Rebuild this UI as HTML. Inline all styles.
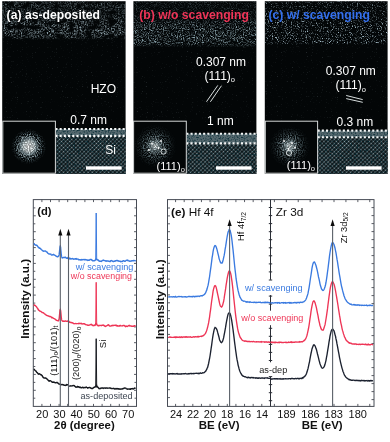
<!DOCTYPE html>
<html><head><meta charset="utf-8"><style>
html,body{margin:0;padding:0;background:#fff;width:390px;height:442px;overflow:hidden}
svg{display:block}
</style></head><body>
<svg width="390" height="442" viewBox="0 0 390 442">
<defs>
<filter id="nz" x="0" y="0" width="100%" height="100%" filterUnits="objectBoundingBox">
 <feTurbulence type="fractalNoise" baseFrequency="0.7" numOctaves="2" seed="4"/>
 <feColorMatrix type="matrix" values="0 0 0 0 0.5  0 0 0 0 0.66  0 0 0 0 0.74  2.6 0 0 0 -1.05"/>
 <feGaussianBlur stdDeviation="0.45"/>
</filter>
<filter id="nzb" x="0" y="0" width="100%" height="100%" filterUnits="objectBoundingBox">
 <feTurbulence type="fractalNoise" baseFrequency="0.85" numOctaves="2" seed="8"/>
 <feColorMatrix type="matrix" values="0 0 0 0 0.46  0 0 0 0 0.66  0 0 0 0 0.74  3.0 0 0 0 -1.3"/>
 <feGaussianBlur stdDeviation="0.35"/>
</filter>
<filter id="nzc" x="0" y="0" width="100%" height="100%" filterUnits="objectBoundingBox">
 <feTurbulence type="fractalNoise" baseFrequency="0.8" numOctaves="2" seed="19"/>
 <feColorMatrix type="matrix" values="0 0 0 0 0.52  0 0 0 0 0.7  0 0 0 0 0.8  4.0 0 0 0 -2.1"/>
 <feGaussianBlur stdDeviation="0.35"/>
</filter>
<filter id="nzd" x="0" y="0" width="100%" height="100%" filterUnits="objectBoundingBox">
 <feTurbulence type="fractalNoise" baseFrequency="0.8" numOctaves="1" seed="21"/>
 <feColorMatrix type="matrix" values="0 0 0 0 0.4  0 0 0 0 0.5  0 0 0 0 0.55  2.0 0 0 0 -1.3"/>
</filter>
<filter id="nzl" x="0" y="0" width="100%" height="100%" filterUnits="objectBoundingBox">
 <feTurbulence type="fractalNoise" baseFrequency="0.7" numOctaves="2" seed="31"/>
 <feColorMatrix type="matrix" values="0 0 0 0 0  0 0 0 0 0.02  0 0 0 0 0.03  -2.5 0 0 0 1.35"/>
</filter>
<filter id="nzm" x="0" y="0" width="100%" height="100%" filterUnits="objectBoundingBox">
 <feTurbulence type="fractalNoise" baseFrequency="0.85" numOctaves="1" seed="13"/>
 <feColorMatrix type="matrix" values="0 0 0 0 1  0 0 0 0 1  0 0 0 0 1  4 0 0 0 -1.7"/>
</filter>
<pattern id="lat" width="2.9" height="2.9" patternUnits="userSpaceOnUse" patternTransform="rotate(45)">
 <rect width="2.9" height="2.9" fill="#060d10"/>
 <circle cx="1.45" cy="1.45" r="0.85" fill="#8ea2a8"/>
</pattern>
<radialGradient id="blob">
 <stop offset="0" stop-color="#ffffff"/>
 <stop offset="0.45" stop-color="#d8e4e6"/>
 <stop offset="0.7" stop-color="#6a8088"/>
 <stop offset="1" stop-color="#20292c" stop-opacity="0"/>
</radialGradient>
<radialGradient id="blob2">
 <stop offset="0" stop-color="#f4fafa"/>
 <stop offset="0.25" stop-color="#b4c6ca"/>
 <stop offset="0.55" stop-color="#5a6e74" stop-opacity="0.8"/>
 <stop offset="1" stop-color="#1a2326" stop-opacity="0"/>
</radialGradient>
<filter id="lm0" x="0" y="0" width="100%" height="100%" filterUnits="objectBoundingBox">
 <feTurbulence type="fractalNoise" baseFrequency="0.13 0.2" numOctaves="2" seed="17"/>
 <feColorMatrix type="matrix" values="0 0 0 0 0  0 0 0 0 0  0 0 0 0 0  -4 0 0 0 2.2"/>
</filter>
<filter id="lm1" x="0" y="0" width="100%" height="100%" filterUnits="objectBoundingBox">
 <feTurbulence type="fractalNoise" baseFrequency="0.18 0.25" numOctaves="2" seed="27"/>
 <feColorMatrix type="matrix" values="0 0 0 0 0  0 0 0 0 0  0 0 0 0 0  -3 0 0 0 1.6"/>
</filter>
<filter id="lm2" x="0" y="0" width="100%" height="100%" filterUnits="objectBoundingBox">
 <feTurbulence type="fractalNoise" baseFrequency="0.18 0.25" numOctaves="2" seed="37"/>
 <feColorMatrix type="matrix" values="0 0 0 0 0  0 0 0 0 0  0 0 0 0 0  -3 0 0 0 1.6"/>
</filter>
<mask id="bm" maskUnits="userSpaceOnUse"><rect x="0" y="115" width="390" height="60" filter="url(#nzm)"/></mask>
<linearGradient id="bm0" x1="0" y1="0" x2="0" y2="1"><stop offset="0" stop-color="#fff" stop-opacity="0.5"/><stop offset="0.4" stop-color="#fff" stop-opacity="0.45"/><stop offset="0.55" stop-color="#fff" stop-opacity="0.6"/><stop offset="0.8" stop-color="#fff" stop-opacity="0.8"/><stop offset="0.92" stop-color="#fff" stop-opacity="0.6"/><stop offset="1" stop-color="#fff" stop-opacity="0.0"/></linearGradient>
<mask id="m0" maskUnits="userSpaceOnUse"><rect x="2.2" y="1.2" width="123.39999999999999" height="38.8" fill="url(#bm0)"/><rect x="2.2" y="1.2" width="123.39999999999999" height="38.8" filter="url(#lm0)"/></mask><linearGradient id="bm1" x1="0" y1="0" x2="0" y2="1"><stop offset="0" stop-color="#fff" stop-opacity="0.25"/><stop offset="0.38" stop-color="#fff" stop-opacity="0.28"/><stop offset="0.52" stop-color="#fff" stop-opacity="0.7"/><stop offset="0.85" stop-color="#fff" stop-opacity="0.8"/><stop offset="0.93" stop-color="#fff" stop-opacity="0.55"/><stop offset="1" stop-color="#fff" stop-opacity="0.0"/></linearGradient>
<mask id="m1" maskUnits="userSpaceOnUse"><rect x="133.4" y="1.2" width="122.99999999999997" height="46.3" fill="url(#bm1)"/><rect x="133.4" y="1.2" width="122.99999999999997" height="46.3" filter="url(#lm1)"/></mask><linearGradient id="bm2" x1="0" y1="0" x2="0" y2="1"><stop offset="0" stop-color="#fff" stop-opacity="0.55"/><stop offset="0.38" stop-color="#fff" stop-opacity="0.55"/><stop offset="0.55" stop-color="#fff" stop-opacity="0.8"/><stop offset="0.85" stop-color="#fff" stop-opacity="0.85"/><stop offset="0.93" stop-color="#fff" stop-opacity="1.0"/><stop offset="1" stop-color="#fff" stop-opacity="0.0"/></linearGradient>
<mask id="m2" maskUnits="userSpaceOnUse"><rect x="264.8" y="1.2" width="122.80000000000001" height="44.0" fill="url(#bm2)"/><rect x="264.8" y="1.2" width="122.80000000000001" height="44.0" filter="url(#lm2)"/></mask></defs>
<rect x="2.2" y="1.2" width="123.4" height="172.6" fill="#030607"/>
<rect x="2.2" y="1.2" width="123.4" height="38.8" filter="url(#nz)" mask="url(#m0)"/>
<rect x="2.2" y="40" width="123.4" height="81.2" filter="url(#nzd)" opacity="0.5"/>
<rect x="55.4" y="129.0" width="70.2" height="6.9" fill="#55686e"/>
<rect x="55.4" y="135.9" width="70.2" height="37.9" fill="url(#lat)"/>
<rect x="55.4" y="129.0" width="70.2" height="44.8" filter="url(#nzl)"/>
<line x1="55.4" y1="129.0" x2="125.6" y2="129.0" stroke="#f4f6f6" stroke-width="2.1" stroke-dasharray="2.1 2.1"/>
<line x1="55.4" y1="135.9" x2="125.6" y2="135.9" stroke="#f4f6f6" stroke-width="2.1" stroke-dasharray="2.1 2.1"/>
<rect x="2.8" y="121.2" width="52.6" height="52.0" fill="#030607" stroke="#d4d8d8" stroke-width="1"/>
<rect x="86" y="166.3" width="35.6" height="3.4" fill="#ffffff"/>
<text x="6.6" y="18.8" font-family='"Liberation Sans", Arial, sans-serif' font-weight="bold" font-size="12.2" fill="#ffffff">(a) as-deposited</text>
<rect x="133.4" y="1.2" width="123.0" height="172.6" fill="#030607"/>
<rect x="133.4" y="1.2" width="123.0" height="46.3" filter="url(#nzb)" mask="url(#m1)"/>
<rect x="133.4" y="47.5" width="123.0" height="73.7" filter="url(#nzd)" opacity="0.5"/>
<rect x="186.3" y="133.7" width="70.1" height="9.7" fill="#55686e"/>
<rect x="186.3" y="143.4" width="70.1" height="30.4" fill="url(#lat)"/>
<rect x="186.3" y="133.7" width="70.1" height="40.1" filter="url(#nzl)"/>
<line x1="186.3" y1="133.7" x2="256.4" y2="133.7" stroke="#f4f6f6" stroke-width="2.1" stroke-dasharray="2.1 2.1"/>
<line x1="186.3" y1="143.4" x2="256.4" y2="143.4" stroke="#f4f6f6" stroke-width="2.1" stroke-dasharray="2.1 2.1"/>
<rect x="133.6" y="121.2" width="52.7" height="52.0" fill="#030607" stroke="#d4d8d8" stroke-width="1"/>
<rect x="216" y="166.3" width="35.6" height="3.4" fill="#ffffff"/>
<text x="139.2" y="18.8" font-family='"Liberation Sans", Arial, sans-serif' font-weight="bold" font-size="12.2" fill="#ef3558">(b) w/o scavenging</text>
<rect x="264.8" y="1.2" width="122.8" height="172.6" fill="#030607"/>
<rect x="264.8" y="1.2" width="122.8" height="44.0" filter="url(#nzc)" mask="url(#m2)"/>
<rect x="264.8" y="45.2" width="122.8" height="76.0" filter="url(#nzd)" opacity="0.5"/>
<rect x="317.6" y="130.6" width="70.0" height="6.7" fill="#55686e"/>
<rect x="317.6" y="137.3" width="70.0" height="36.5" fill="url(#lat)"/>
<rect x="317.6" y="130.6" width="70.0" height="43.2" filter="url(#nzl)"/>
<line x1="317.6" y1="130.6" x2="387.6" y2="130.6" stroke="#f4f6f6" stroke-width="2.1" stroke-dasharray="2.1 2.1"/>
<line x1="317.6" y1="137.3" x2="387.6" y2="137.3" stroke="#f4f6f6" stroke-width="2.1" stroke-dasharray="2.1 2.1"/>
<rect x="265.3" y="121.2" width="52.3" height="52.0" fill="#030607" stroke="#d4d8d8" stroke-width="1"/>
<rect x="346" y="166.3" width="35.6" height="3.4" fill="#ffffff"/>
<text x="268.4" y="18.8" font-family='"Liberation Sans", Arial, sans-serif' font-weight="bold" font-size="12.2" fill="#3470ee">(c) w/ scavenging</text>
<g mask="url(#bm)"><circle cx="28.6" cy="146.5" r="18" fill="url(#blob)"/><circle cx="155" cy="146" r="22" fill="url(#blob2)"/><circle cx="289.5" cy="146.5" r="21" fill="url(#blob2)"/></g>
<circle cx="28.6" cy="146.5" r="12" fill="url(#blob)" opacity="0.6"/>
<circle cx="155" cy="146" r="11" fill="url(#blob2)" opacity="0.55"/>
<circle cx="289.5" cy="146" r="11" fill="url(#blob2)" opacity="0.55"/>
<circle cx="152" cy="143.5" r="0.9" fill="#ffffff"/>
<circle cx="158.5" cy="148" r="0.9" fill="#ffffff"/>
<circle cx="149" cy="150" r="0.9" fill="#ffffff"/>
<circle cx="161" cy="141" r="0.9" fill="#ffffff"/>
<circle cx="292" cy="143" r="0.9" fill="#ffffff"/>
<circle cx="288.5" cy="149" r="0.9" fill="#ffffff"/>
<circle cx="295" cy="147.5" r="0.9" fill="#ffffff"/>
<circle cx="284" cy="141" r="0.9" fill="#ffffff"/>
<circle cx="163.6" cy="151.6" r="2.6" fill="none" stroke="#e8eeee" stroke-width="0.9"/>
<circle cx="289" cy="152.8" r="2.6" fill="none" stroke="#e8eeee" stroke-width="0.9"/>
<text x="90.7" y="92.5" font-family='"Liberation Sans", Arial, sans-serif' font-size="12" fill="#fff" text-anchor="start" font-weight="normal" >HZO</text>
<text x="70.3" y="123.7" font-family='"Liberation Sans", Arial, sans-serif' font-size="12" fill="#fff" text-anchor="start" font-weight="normal" >0.7 nm</text>
<text x="105.3" y="153.8" font-family='"Liberation Sans", Arial, sans-serif' font-size="12" fill="#fff" text-anchor="start" font-weight="normal" >Si</text>
<text x="196.0" y="65.8" font-family='"Liberation Sans", Arial, sans-serif' font-size="12" fill="#fff" text-anchor="start" font-weight="normal" >0.307 nm</text>
<text x="204.6" y="79.6" font-family='"Liberation Sans", Arial, sans-serif' font-size="12" fill="#fff" text-anchor="start" font-weight="normal" >(111)<tspan font-size="7.5" dy="2.6">o</tspan></text>
<text x="207.0" y="125.4" font-family='"Liberation Sans", Arial, sans-serif' font-size="12" fill="#fff" text-anchor="start" font-weight="normal" >1 nm</text>
<text x="156.6" y="169.8" font-family='"Liberation Sans", Arial, sans-serif' font-size="11" fill="#fff" text-anchor="start" font-weight="normal" >(111)<tspan font-size="7.5" dy="2.4">o</tspan></text>
<text x="325.8" y="75.3" font-family='"Liberation Sans", Arial, sans-serif' font-size="12" fill="#fff" text-anchor="start" font-weight="normal" >0.307 nm</text>
<text x="335.4" y="89.0" font-family='"Liberation Sans", Arial, sans-serif' font-size="12" fill="#fff" text-anchor="start" font-weight="normal" >(111)<tspan font-size="7.5" dy="2.6">o</tspan></text>
<text x="336.6" y="125.8" font-family='"Liberation Sans", Arial, sans-serif' font-size="12" fill="#fff" text-anchor="start" font-weight="normal" >0.3 nm</text>
<text x="286.8" y="168.6" font-family='"Liberation Sans", Arial, sans-serif' font-size="11" fill="#fff" text-anchor="start" font-weight="normal" >(111)<tspan font-size="7.5" dy="2.4">o</tspan></text>
<path d="M206.5 101.7 L217.8 85.4 M210.4 101.8 L221.5 85.7" stroke="#d8dede" stroke-width="1" fill="none"/>
<path d="M346.2 95.5 L362.7 99.6 M346.2 98.6 L362.7 102.3" stroke="#d8dede" stroke-width="1" fill="none"/>
<rect x="33.3" y="199.6" width="103.2" height="206.8" fill="none" stroke="#474c55" stroke-width="1"/>
<path d="M41.90 406.4 v-2.5 M41.90 199.6 v2.5 M50.50 406.4 v-2.5 M50.50 199.6 v2.5 M59.10 406.4 v-2.5 M59.10 199.6 v2.5 M67.70 406.4 v-2.5 M67.70 199.6 v2.5 M76.30 406.4 v-2.5 M76.30 199.6 v2.5 M84.90 406.4 v-2.5 M84.90 199.6 v2.5 M93.50 406.4 v-2.5 M93.50 199.6 v2.5 M102.10 406.4 v-2.5 M102.10 199.6 v2.5 M110.70 406.4 v-2.5 M110.70 199.6 v2.5 M119.30 406.4 v-2.5 M119.30 199.6 v2.5 M127.90 406.4 v-2.5 M127.90 199.6 v2.5 M33.3 207.9 h2.0 M136.5 207.9 h-2.0 M33.3 215.8 h2.5 M136.5 215.8 h-2.5 M33.3 223.8 h2.0 M136.5 223.8 h-2.0 M33.3 231.7 h2.5 M136.5 231.7 h-2.5 M33.3 239.6 h2.0 M136.5 239.6 h-2.0 M33.3 247.6 h2.5 M136.5 247.6 h-2.5 M33.3 255.5 h2.0 M136.5 255.5 h-2.0 M33.3 263.4 h2.5 M136.5 263.4 h-2.5 M33.3 271.3 h2.0 M136.5 271.3 h-2.0 M33.3 279.3 h2.5 M136.5 279.3 h-2.5 M33.3 287.2 h2.0 M136.5 287.2 h-2.0 M33.3 295.1 h2.5 M136.5 295.1 h-2.5 M33.3 303.1 h2.0 M136.5 303.1 h-2.0 M33.3 311.0 h2.5 M136.5 311.0 h-2.5 M33.3 318.9 h2.0 M136.5 318.9 h-2.0 M33.3 326.9 h2.5 M136.5 326.9 h-2.5 M33.3 334.8 h2.0 M136.5 334.8 h-2.0 M33.3 342.7 h2.5 M136.5 342.7 h-2.5 M33.3 350.6 h2.0 M136.5 350.6 h-2.0 M33.3 358.6 h2.5 M136.5 358.6 h-2.5 M33.3 366.5 h2.0 M136.5 366.5 h-2.0 M33.3 374.4 h2.5 M136.5 374.4 h-2.5 M33.3 382.4 h2.0 M136.5 382.4 h-2.0 M33.3 390.3 h2.5 M136.5 390.3 h-2.5 M33.3 398.2 h2.0 M136.5 398.2 h-2.0" stroke="#474c55" stroke-width="0.9" fill="none"/>
<path d="M33.70 243.46 L34.20 243.77 L34.70 244.57 L35.20 244.91 L35.70 244.90 L36.20 245.19 L36.70 245.26 L37.20 245.74 L37.70 246.36 L38.20 247.12 L38.70 247.32 L39.20 248.06 L39.70 247.94 L40.20 248.38 L40.70 248.77 L41.20 249.56 L41.70 249.80 L42.20 250.28 L42.70 250.64 L43.20 251.15 L43.70 251.23 L44.20 251.10 L44.70 251.12 L45.20 251.06 L45.70 251.09 L46.20 251.65 L46.70 251.87 L47.20 252.32 L47.70 253.10 L48.20 253.52 L48.70 253.94 L49.20 254.04 L49.70 253.97 L50.20 254.11 L50.70 254.04 L51.20 254.70 L51.70 255.11 L52.20 255.13 L52.70 254.77 L53.20 254.84 L53.70 254.41 L54.20 254.92 L54.70 255.12 L55.20 255.48 L55.70 255.88 L56.20 256.14 L56.70 256.45 L57.20 256.85 L57.70 256.77 L58.20 256.35 L58.70 256.02 L59.10 254.71 L59.20 254.18 L59.70 250.20 L60.00 247.11 L60.20 246.12 L60.30 246.00 L60.60 247.24 L60.70 248.72 L60.90 251.09 L61.20 254.16 L61.50 256.43 L61.70 257.00 L62.20 257.87 L62.70 257.73 L63.20 257.52 L63.70 257.51 L64.20 257.37 L64.70 257.40 L65.20 257.17 L65.70 257.65 L66.20 257.93 L66.70 258.19 L67.20 258.26 L67.30 257.92 L67.70 257.86 L67.90 258.13 L68.20 257.49 L68.50 257.45 L68.70 257.51 L68.80 257.57 L69.10 258.57 L69.20 258.71 L69.70 258.73 L70.20 258.98 L70.70 258.54 L71.20 258.91 L71.70 258.86 L72.20 258.61 L72.70 258.56 L73.20 258.98 L73.70 259.23 L74.20 259.12 L74.70 258.86 L75.20 258.78 L75.70 258.93 L76.20 258.60 L76.70 259.16 L77.20 258.99 L77.70 259.11 L78.20 259.21 L78.70 259.78 L79.20 259.86 L79.70 259.66 L80.20 259.62 L80.70 259.94 L81.20 260.03 L81.70 259.49 L82.20 259.69 L82.70 259.75 L83.20 259.56 L83.70 259.66 L84.20 259.82 L84.70 259.55 L85.20 259.57 L85.70 259.79 L86.20 259.81 L86.70 259.94 L87.20 260.00 L87.70 260.40 L88.20 260.07 L88.70 260.21 L89.20 260.23 L89.70 259.88 L90.20 259.53 L90.70 259.49 L91.20 259.48 L91.70 259.89 L92.20 260.36 L92.70 260.83 L93.20 260.89 L93.70 260.78 L94.20 260.69 L94.70 260.51 L95.00 260.35 L95.20 260.03 L95.60 259.76 L95.70 259.60 L95.90 259.16 L96.20 259.04 L96.50 259.18 L96.70 259.21 L96.80 259.49 L97.20 259.64 L97.40 259.92 L97.70 260.07 L98.20 260.08 L98.70 260.62 L99.20 261.10 L99.70 261.29 L100.20 261.22 L100.70 261.16 L101.20 261.48 L101.70 261.10 L102.20 260.56 L102.70 260.32 L103.20 259.98 L103.70 260.26 L104.20 260.53 L104.70 260.61 L105.20 260.63 L105.70 261.10 L106.20 261.25 L106.70 260.89 L107.20 261.06 L107.70 261.05 L108.20 260.99 L108.70 261.29 L109.20 261.21 L109.70 261.58 L110.20 261.50 L110.70 260.80 L111.20 260.86 L111.70 260.60 L112.20 260.97 L112.70 261.26 L113.20 261.56 L113.70 261.48 L114.20 261.18 L114.70 261.26 L115.20 260.84 L115.70 260.92 L116.20 260.59 L116.70 260.45 L117.20 260.52 L117.70 260.67 L118.20 261.13 L118.70 260.92 L119.20 261.14 L119.70 261.26 L120.20 261.31 L120.70 261.62 L121.20 261.52 L121.70 261.50 L122.20 261.48 L122.70 261.07 L123.20 260.72 L123.70 260.76 L124.20 261.00 L124.70 261.18 L125.20 261.23 L125.70 260.79 L126.20 260.33 L126.70 260.29 L127.20 260.43 L127.70 260.21 L128.20 260.66 L128.70 260.83 L129.20 260.96 L129.70 261.22 L130.20 261.20 L130.70 261.12 L131.20 260.87 L131.70 260.94 L132.20 260.83 L132.70 260.83 L133.20 260.53 L133.70 260.72 L134.20 260.56 L134.70 260.63 L135.20 260.78 L135.70 261.01" stroke="#3a7ae0" stroke-width="1.45" fill="none"/>
<path d="M95.70 260.04 L96.20 213.00 L96.70 260.04" stroke="#3a7ae0" stroke-width="1.0" fill="none" stroke-linejoin="round"/>
<path d="M33.70 304.89 L34.20 305.21 L34.70 305.07 L35.20 305.63 L35.70 306.02 L36.20 306.44 L36.70 307.18 L37.20 307.91 L37.70 308.51 L38.20 309.55 L38.70 310.16 L39.20 310.49 L39.70 310.98 L40.20 311.24 L40.70 311.44 L41.20 311.73 L41.70 312.00 L42.20 312.57 L42.70 312.65 L43.20 312.78 L43.70 313.00 L44.20 313.48 L44.70 313.84 L45.20 314.43 L45.70 314.57 L46.20 315.09 L46.70 315.36 L47.20 315.66 L47.70 315.73 L48.20 315.91 L48.70 316.21 L49.20 316.44 L49.70 316.35 L50.20 316.55 L50.70 316.64 L51.20 317.00 L51.70 317.64 L52.20 317.55 L52.70 317.75 L53.20 318.10 L53.70 318.32 L54.20 318.52 L54.70 318.94 L55.20 319.23 L55.70 319.66 L56.20 320.08 L56.70 320.34 L57.20 320.48 L57.70 320.58 L58.20 320.91 L58.70 320.32 L59.10 319.01 L59.20 318.50 L59.70 313.68 L60.00 310.48 L60.20 309.49 L60.30 309.38 L60.60 310.64 L60.70 311.47 L60.90 313.69 L61.20 316.73 L61.50 319.18 L61.70 319.98 L62.20 320.88 L62.70 321.28 L63.20 321.11 L63.70 321.08 L64.20 321.36 L64.70 321.36 L65.20 320.97 L65.70 320.95 L66.20 321.38 L66.70 321.39 L67.20 321.08 L67.30 320.99 L67.70 321.14 L67.90 321.25 L68.20 321.42 L68.50 321.41 L68.70 321.48 L68.80 321.53 L69.10 321.55 L69.20 321.76 L69.70 322.24 L70.20 322.22 L70.70 322.43 L71.20 322.39 L71.70 322.65 L72.20 322.65 L72.70 322.81 L73.20 323.31 L73.70 323.53 L74.20 323.69 L74.70 323.65 L75.20 323.62 L75.70 323.45 L76.20 323.68 L76.70 323.62 L77.20 323.63 L77.70 323.61 L78.20 323.59 L78.70 323.69 L79.20 323.33 L79.70 323.38 L80.20 323.48 L80.70 323.47 L81.20 323.37 L81.70 323.77 L82.20 323.89 L82.70 323.80 L83.20 323.69 L83.70 323.64 L84.20 323.91 L84.70 323.83 L85.20 324.25 L85.70 324.56 L86.20 324.78 L86.70 324.85 L87.20 324.90 L87.70 325.20 L88.20 325.16 L88.70 325.25 L89.20 325.10 L89.70 325.02 L90.20 324.65 L90.70 324.55 L91.20 324.38 L91.70 324.60 L92.20 325.23 L92.70 325.30 L93.20 325.65 L93.70 325.59 L94.20 325.56 L94.70 325.00 L95.00 324.85 L95.20 325.03 L95.60 324.12 L95.70 324.15 L95.90 323.63 L96.20 323.51 L96.50 323.65 L96.70 324.33 L96.80 324.42 L97.20 325.21 L97.40 325.49 L97.70 325.43 L98.20 325.48 L98.70 325.84 L99.20 325.54 L99.70 325.41 L100.20 325.40 L100.70 325.39 L101.20 325.69 L101.70 325.40 L102.20 325.28 L102.70 325.26 L103.20 325.07 L103.70 325.60 L104.20 325.53 L104.70 326.15 L105.20 326.26 L105.70 326.39 L106.20 325.86 L106.70 325.87 L107.20 325.47 L107.70 325.07 L108.20 324.86 L108.70 324.97 L109.20 325.66 L109.70 325.95 L110.20 325.96 L110.70 326.09 L111.20 325.83 L111.70 325.53 L112.20 325.72 L112.70 325.30 L113.20 325.55 L113.70 325.50 L114.20 325.34 L114.70 325.37 L115.20 325.33 L115.70 325.34 L116.20 325.72 L116.70 325.40 L117.20 325.95 L117.70 325.84 L118.20 326.10 L118.70 326.10 L119.20 325.80 L119.70 325.87 L120.20 325.46 L120.70 325.76 L121.20 325.85 L121.70 325.90 L122.20 326.02 L122.70 325.55 L123.20 325.41 L123.70 325.55 L124.20 325.51 L124.70 325.81 L125.20 326.32 L125.70 326.55 L126.20 326.07 L126.70 326.23 L127.20 326.37 L127.70 326.05 L128.20 325.92 L128.70 325.59 L129.20 325.83 L129.70 325.45 L130.20 325.76 L130.70 326.10 L131.20 326.07 L131.70 326.25 L132.20 326.28 L132.70 326.17 L133.20 326.27 L133.70 326.24 L134.20 325.77 L134.70 325.72 L135.20 325.85 L135.70 325.70" stroke="#ee3556" stroke-width="1.45" fill="none"/>
<path d="M95.70 324.51 L96.20 282.30 L96.70 324.51" stroke="#ee3556" stroke-width="1.0" fill="none" stroke-linejoin="round"/>
<path d="M33.70 369.16 L34.20 369.36 L34.70 369.94 L35.20 370.48 L35.70 370.84 L36.20 371.41 L36.70 372.26 L37.20 372.55 L37.70 373.17 L38.20 373.84 L38.70 374.11 L39.20 373.87 L39.70 373.95 L40.20 374.22 L40.70 374.79 L41.20 374.71 L41.70 375.23 L42.20 375.79 L42.70 376.60 L43.20 377.53 L43.70 377.77 L44.20 377.94 L44.70 378.04 L45.20 378.06 L45.70 378.07 L46.20 378.48 L46.70 378.69 L47.20 379.28 L47.70 379.65 L48.20 380.36 L48.70 380.86 L49.20 381.07 L49.70 380.79 L50.20 380.68 L50.70 380.82 L51.20 381.26 L51.70 381.64 L52.20 382.24 L52.70 382.21 L53.20 382.17 L53.70 382.03 L54.20 382.33 L54.70 382.42 L55.20 382.75 L55.70 382.64 L56.20 382.65 L56.70 382.44 L57.20 382.42 L57.70 383.13 L58.20 383.13 L58.70 383.87 L59.20 384.11 L59.70 384.06 L60.20 384.46 L60.70 384.82 L61.20 384.76 L61.70 384.45 L62.20 384.55 L62.70 384.67 L63.20 384.70 L63.70 385.06 L64.20 385.22 L64.70 385.22 L65.20 385.49 L65.70 385.27 L66.20 385.20 L66.70 384.59 L67.20 384.65 L67.70 384.67 L68.20 385.43 L68.70 386.01 L69.20 386.09 L69.70 386.14 L70.20 386.12 L70.70 385.86 L71.20 385.90 L71.70 385.93 L72.20 385.89 L72.70 385.67 L73.20 385.59 L73.70 385.44 L74.20 385.66 L74.70 386.14 L75.20 386.51 L75.70 387.09 L76.20 387.22 L76.70 386.88 L77.20 386.90 L77.70 386.54 L78.20 386.99 L78.70 386.81 L79.20 387.08 L79.70 387.44 L80.20 387.18 L80.70 387.57 L81.20 387.72 L81.70 387.70 L82.20 387.51 L82.70 387.36 L83.20 387.49 L83.70 387.83 L84.20 387.64 L84.70 387.50 L85.20 387.66 L85.70 387.29 L86.20 387.04 L86.70 387.39 L87.20 387.62 L87.70 388.07 L88.20 387.70 L88.70 387.71 L89.20 387.57 L89.70 387.44 L90.20 387.68 L90.70 388.12 L91.20 388.25 L91.70 388.42 L92.20 388.30 L92.70 388.45 L93.20 388.02 L93.70 387.49 L94.20 387.41 L94.70 387.17 L95.00 386.85 L95.20 386.60 L95.60 386.34 L95.70 386.27 L95.90 386.46 L96.20 386.34 L96.50 386.48 L96.70 385.90 L96.80 386.26 L97.20 386.54 L97.40 386.91 L97.70 387.12 L98.20 387.60 L98.70 388.17 L99.20 388.67 L99.70 388.54 L100.20 388.25 L100.70 388.43 L101.20 388.08 L101.70 387.96 L102.20 387.89 L102.70 388.00 L103.20 388.45 L103.70 388.10 L104.20 388.08 L104.70 387.95 L105.20 387.99 L105.70 388.16 L106.20 388.01 L106.70 388.03 L107.20 388.08 L107.70 388.18 L108.20 388.15 L108.70 388.11 L109.20 388.00 L109.70 387.97 L110.20 387.91 L110.70 388.28 L111.20 388.40 L111.70 388.40 L112.20 388.50 L112.70 388.61 L113.20 388.62 L113.70 388.34 L114.20 388.63 L114.70 388.94 L115.20 388.99 L115.70 388.67 L116.20 388.86 L116.70 388.59 L117.20 388.84 L117.70 388.64 L118.20 388.87 L118.70 388.76 L119.20 389.10 L119.70 388.92 L120.20 389.15 L120.70 389.06 L121.20 389.01 L121.70 389.05 L122.20 388.98 L122.70 388.76 L123.20 388.54 L123.70 388.60 L124.20 388.13 L124.70 387.95 L125.20 388.04 L125.70 388.08 L126.20 388.57 L126.70 388.85 L127.20 389.00 L127.70 389.22 L128.20 388.94 L128.70 389.10 L129.20 388.96 L129.70 389.21 L130.20 388.97 L130.70 389.16 L131.20 388.74 L131.70 388.68 L132.20 388.60 L132.70 388.85 L133.20 388.90 L133.70 388.85 L134.20 388.31 L134.70 388.06 L135.20 388.19 L135.70 388.15" stroke="#15181e" stroke-width="1.45" fill="none"/>
<path d="M95.70 387.34 L96.20 338.70 L96.70 387.34" stroke="#15181e" stroke-width="1.0" fill="none" stroke-linejoin="round"/>
<line x1="60.3" y1="234" x2="60.3" y2="406.4" stroke="#5a6068" stroke-width="1.1"/>
<path d="M60.3 228.7 L58.199999999999996 235.4 L62.4 235.4 Z" fill="#0c0c0c"/>
<line x1="68.5" y1="234" x2="68.5" y2="406.4" stroke="#5a6068" stroke-width="1.1"/>
<path d="M68.5 228.7 L66.4 235.4 L70.6 235.4 Z" fill="#0c0c0c"/>
<text x="37.3" y="215.4" font-family='"Liberation Sans", Arial, sans-serif' font-size="11.2" fill="#111" text-anchor="start" font-weight="bold" >(d)</text>
<text x="133.3" y="270.3" font-family='"Liberation Sans", Arial, sans-serif' font-size="9.1" fill="#3a7ae0" text-anchor="end" font-weight="normal" >w/ scavenging</text>
<text x="132.0" y="279.2" font-family='"Liberation Sans", Arial, sans-serif' font-size="8.9" fill="#ee3556" text-anchor="end" font-weight="normal" >w/o scavenging</text>
<text x="132.6" y="399.4" font-family='"Liberation Sans", Arial, sans-serif' font-size="9.1" fill="#3e4652" text-anchor="end" font-weight="normal" >as-deposited</text>
<text x="0" y="0" font-family='"Liberation Sans", Arial, sans-serif' font-size="9.3" fill="#111" text-anchor="start" font-weight="normal" transform="translate(56.7 375.8) rotate(-90)">(111)<tspan font-size="6.6" dy="1.6">o</tspan><tspan dy="-1.6">/(101)</tspan><tspan font-size="6.6" dy="1.6">t</tspan></text>
<text x="0" y="0" font-family='"Liberation Sans", Arial, sans-serif' font-size="9.3" fill="#111" text-anchor="start" font-weight="normal" transform="translate(79.2 380.0) rotate(-90)">(200)<tspan font-size="6.6" dy="1.6">o</tspan><tspan dy="-1.6">/(020)</tspan><tspan font-size="6.6" dy="1.6">o</tspan></text>
<text x="0" y="0" font-family='"Liberation Sans", Arial, sans-serif' font-size="9.6" fill="#111" text-anchor="start" font-weight="normal" transform="translate(105.8 348.2) rotate(-90)">Si</text>
<text x="42.199999999999996" y="417.6" font-family='"Liberation Sans", Arial, sans-serif' font-size="11" fill="#111" text-anchor="middle" font-weight="normal" >20</text>
<text x="59.39999999999999" y="417.6" font-family='"Liberation Sans", Arial, sans-serif' font-size="11" fill="#111" text-anchor="middle" font-weight="normal" >30</text>
<text x="76.6" y="417.6" font-family='"Liberation Sans", Arial, sans-serif' font-size="11" fill="#111" text-anchor="middle" font-weight="normal" >40</text>
<text x="93.8" y="417.6" font-family='"Liberation Sans", Arial, sans-serif' font-size="11" fill="#111" text-anchor="middle" font-weight="normal" >50</text>
<text x="111.0" y="417.6" font-family='"Liberation Sans", Arial, sans-serif' font-size="11" fill="#111" text-anchor="middle" font-weight="normal" >60</text>
<text x="128.2" y="417.6" font-family='"Liberation Sans", Arial, sans-serif' font-size="11" fill="#111" text-anchor="middle" font-weight="normal" >70</text>
<text x="84.4" y="429.4" font-family='"Liberation Sans", Arial, sans-serif' font-size="11.4" fill="#111" text-anchor="middle" font-weight="bold" >2θ (degree)</text>
<text x="0" y="0" font-family='"Liberation Sans", Arial, sans-serif' font-size="11.8" fill="#111" text-anchor="middle" font-weight="bold" transform="translate(29.4 298.7) rotate(-90)">Intensity (a.u.)</text>
<rect x="167.5" y="199.6" width="206.5" height="206.8" fill="none" stroke="#474c55" stroke-width="1"/>
<path d="M261.78 406.4 v-2.5 M261.78 199.6 v2.5 M253.16 406.4 v-2.5 M253.16 199.6 v2.5 M244.54 406.4 v-2.5 M244.54 199.6 v2.5 M235.92 406.4 v-2.5 M235.92 199.6 v2.5 M227.30 406.4 v-2.5 M227.30 199.6 v2.5 M218.68 406.4 v-2.5 M218.68 199.6 v2.5 M210.06 406.4 v-2.5 M210.06 199.6 v2.5 M201.44 406.4 v-2.5 M201.44 199.6 v2.5 M192.82 406.4 v-2.5 M192.82 199.6 v2.5 M184.20 406.4 v-2.5 M184.20 199.6 v2.5 M175.58 406.4 v-2.5 M175.58 199.6 v2.5 M274.38 406.4 v-2.5 M274.38 199.6 v2.5 M286.30 406.4 v-2.5 M286.30 199.6 v2.5 M298.23 406.4 v-2.5 M298.23 199.6 v2.5 M310.15 406.4 v-2.5 M310.15 199.6 v2.5 M322.07 406.4 v-2.5 M322.07 199.6 v2.5 M334.00 406.4 v-2.5 M334.00 199.6 v2.5 M345.93 406.4 v-2.5 M345.93 199.6 v2.5 M357.85 406.4 v-2.5 M357.85 199.6 v2.5 M369.78 406.4 v-2.5 M369.78 199.6 v2.5 M167.5 208.0 h2.5 M167.5 215.9 h2.5 M167.5 223.8 h2.5 M167.5 231.7 h2.5 M167.5 239.6 h2.5 M167.5 247.5 h2.5 M167.5 255.4 h2.5 M167.5 263.3 h2.5 M167.5 271.2 h2.5 M167.5 279.1 h2.5 M167.5 287.0 h2.5 M167.5 294.9 h2.5 M167.5 302.8 h2.5 M167.5 310.7 h2.5 M167.5 318.6 h2.5 M167.5 326.5 h2.5 M167.5 334.4 h2.5 M167.5 342.3 h2.5 M167.5 350.2 h2.5 M167.5 358.1 h2.5 M167.5 366.0 h2.5 M167.5 373.9 h2.5 M167.5 381.8 h2.5 M167.5 389.7 h2.5 M167.5 397.6 h2.5 M374.0 207.6 h-2.5 M374.0 215.6 h-2.5 M374.0 223.6 h-2.5 M374.0 231.6 h-2.5 M374.0 239.6 h-2.5 M374.0 247.6 h-2.5 M374.0 255.6 h-2.5 M374.0 263.6 h-2.5 M374.0 271.6 h-2.5 M374.0 279.6 h-2.5 M374.0 287.6 h-2.5 M374.0 295.6 h-2.5 M374.0 303.6 h-2.5 M374.0 311.6 h-2.5 M374.0 319.6 h-2.5 M374.0 327.6 h-2.5 M374.0 335.6 h-2.5 M374.0 343.6 h-2.5 M374.0 351.6 h-2.5 M374.0 359.6 h-2.5 M374.0 367.6 h-2.5 M374.0 375.6 h-2.5 M374.0 383.6 h-2.5 M374.0 391.6 h-2.5 M374.0 399.6 h-2.5" stroke="#474c55" stroke-width="0.9" fill="none"/>
<path d="M270.5 199.6 V279.8 M268.8 207.5 h3.4 M268.8 215.6 h3.4 M268.8 223.6 h3.4 M268.8 231.7 h3.4 M268.8 239.7 h3.4 M268.8 247.8 h3.4 M268.8 255.8 h3.4 M268.8 263.9 h3.4 M268.8 271.9 h3.4 M268.8 280.0 h3.4 M270.5 295.1 V310.7 M268.8 296.1 h3.4 M268.8 304.1 h3.4 M270.5 325.2 V362.3 M268.8 328.3 h3.4 M268.8 336.3 h3.4 M268.8 344.4 h3.4 M268.8 352.4 h3.4 M268.8 360.5 h3.4 M270.5 377 V406.4 M268.8 376.6 h3.4 M268.8 384.6 h3.4 M268.8 392.7 h3.4 M268.8 400.7 h3.4" stroke="#2a2e36" stroke-width="1" fill="none"/>
<path d="M168.1 296.8 L168.6 296.9 L169.1 297.1 L169.6 296.8 L170.1 296.9 L170.6 296.9 L171.1 296.7 L171.6 296.9 L172.1 296.9 L172.6 297.0 L173.1 296.6 L173.6 296.7 L174.1 296.6 L174.6 297.0 L175.1 296.9 L175.6 296.5 L176.1 297.1 L176.6 297.1 L177.1 296.9 L177.6 296.9 L178.1 296.6 L178.6 296.5 L179.1 296.8 L179.6 296.5 L180.1 296.6 L180.6 296.6 L181.1 296.5 L181.6 296.7 L182.1 296.7 L182.6 297.0 L183.1 296.8 L183.6 296.8 L184.1 296.7 L184.6 296.8 L185.1 296.7 L185.6 296.6 L186.1 297.0 L186.6 297.0 L187.1 296.9 L187.6 296.8 L188.1 296.6 L188.6 296.5 L189.1 296.5 L189.6 296.4 L190.1 296.8 L190.6 296.5 L191.1 296.8 L191.6 296.5 L192.1 296.8 L192.6 296.8 L193.1 296.2 L193.6 296.3 L194.1 296.7 L194.6 296.5 L195.1 296.7 L195.6 296.4 L196.1 296.2 L196.6 296.5 L197.1 296.5 L197.6 296.2 L198.1 296.1 L198.6 296.2 L199.1 296.5 L199.6 296.3 L200.1 295.9 L200.6 295.9 L201.1 295.7 L201.6 295.6 L202.1 295.9 L202.6 295.4 L203.1 295.4 L203.6 295.0 L204.1 294.5 L204.6 294.4 L205.1 293.4 L205.6 292.9 L206.1 291.5 L206.6 290.4 L207.1 288.8 L207.6 286.9 L208.1 285.2 L208.6 282.5 L209.1 279.4 L209.6 276.5 L210.1 272.7 L210.6 269.1 L211.1 265.6 L211.6 261.7 L212.1 257.7 L212.6 254.8 L213.1 251.3 L213.6 248.9 L214.1 247.3 L214.6 246.0 L215.1 245.6 L215.6 245.8 L216.1 246.7 L216.6 248.3 L217.1 249.9 L217.6 252.1 L218.1 254.1 L218.6 256.2 L219.1 258.6 L219.6 260.1 L220.1 261.6 L220.6 262.8 L221.1 263.0 L221.6 263.0 L222.1 263.0 L222.6 261.9 L223.1 260.0 L223.6 257.9 L224.1 255.7 L224.6 253.0 L225.1 249.4 L225.6 246.7 L226.1 243.4 L226.6 240.0 L227.1 237.0 L227.6 234.3 L228.1 232.1 L228.6 231.1 L229.1 229.8 L229.6 229.9 L230.1 230.3 L230.6 232.3 L231.1 234.6 L231.6 237.7 L232.1 241.5 L232.6 246.1 L233.1 250.4 L233.6 255.4 L234.1 260.5 L234.6 265.5 L235.1 270.0 L235.6 274.2 L236.1 278.7 L236.6 281.9 L237.1 285.1 L237.6 288.1 L238.1 290.7 L238.6 292.6 L239.1 294.5 L239.6 296.1 L240.1 297.4 L240.6 298.1 L241.1 299.0 L241.6 300.0 L242.1 300.5 L242.6 300.7 L243.1 301.0 L243.6 301.2 L244.1 301.1 L244.6 301.2 L245.1 301.3 L245.6 301.9 L246.1 301.9 L246.6 302.1 L247.1 301.6 L247.6 302.0 L248.1 301.9 L248.6 302.1 L249.1 301.9 L249.6 302.3 L250.1 301.8 L250.6 302.1 L251.1 302.3 L251.6 302.4 L252.1 302.3 L252.6 302.3 L253.1 302.4 L253.6 302.5 L254.1 302.1 L254.6 302.4 L255.1 302.5 L255.6 302.5 L256.1 302.2 L256.6 302.5 L257.1 302.5 L257.6 302.4 L258.1 302.4 L258.6 302.3 L259.1 302.4 L259.6 302.4 L260.1 302.1 L260.6 302.5 L261.1 302.7 L261.6 302.6 L262.1 302.6 L262.6 302.4 L263.1 302.6 L263.6 302.5 L264.1 302.4 L264.6 302.7 L265.1 302.2 L265.6 302.6 L266.1 302.2 L266.6 302.5 L267.1 302.5 L267.6 302.3 L268.1 302.6 L268.6 302.5 L269.1 302.6 L269.6 302.8 L270.1 302.4" stroke="#3a7ae0" stroke-width="1.35" fill="none"/>
<path d="M270.5 302.7 L271.0 303.0 L271.5 303.0 L272.0 302.9 L272.5 302.7 L273.0 303.1 L273.5 303.1 L274.0 302.9 L274.5 302.9 L275.0 302.7 L275.5 302.6 L276.0 302.8 L276.5 302.9 L277.0 302.6 L277.5 303.1 L278.0 302.7 L278.5 302.7 L279.0 302.6 L279.5 303.2 L280.0 303.0 L280.5 303.1 L281.0 302.9 L281.5 302.6 L282.0 302.7 L282.5 302.8 L283.0 302.6 L283.5 303.1 L284.0 302.7 L284.5 302.6 L285.0 303.0 L285.5 302.6 L286.0 303.1 L286.5 302.8 L287.0 302.8 L287.5 302.7 L288.0 302.8 L288.5 302.6 L289.0 302.5 L289.5 303.0 L290.0 302.6 L290.5 302.9 L291.0 302.6 L291.5 303.0 L292.0 303.0 L292.5 302.9 L293.0 302.9 L293.5 302.7 L294.0 302.8 L294.5 302.4 L295.0 302.6 L295.5 302.8 L296.0 302.4 L296.5 302.9 L297.0 302.8 L297.5 302.5 L298.0 302.5 L298.5 302.5 L299.0 302.4 L299.5 302.8 L300.0 302.4 L300.5 302.1 L301.0 302.1 L301.5 302.4 L302.0 302.5 L302.5 302.1 L303.0 302.0 L303.5 301.8 L304.0 301.7 L304.5 301.0 L305.0 300.8 L305.5 300.1 L306.0 299.3 L306.5 298.0 L307.0 296.6 L307.5 295.1 L308.0 293.4 L308.5 290.7 L309.0 288.1 L309.5 284.9 L310.0 281.5 L310.5 278.0 L311.0 275.0 L311.5 271.6 L312.0 268.2 L312.5 265.7 L313.0 263.7 L313.5 262.5 L314.0 262.1 L314.5 262.0 L315.0 263.0 L315.5 264.2 L316.0 265.5 L316.5 267.5 L317.0 269.4 L317.5 271.7 L318.0 274.1 L318.5 276.9 L319.0 278.9 L319.5 281.2 L320.0 283.8 L320.5 285.8 L321.0 287.3 L321.5 288.9 L322.0 289.5 L322.5 290.2 L323.0 290.5 L323.5 290.3 L324.0 289.5 L324.5 288.3 L325.0 286.8 L325.5 285.0 L326.0 282.5 L326.5 279.3 L327.0 275.8 L327.5 272.0 L328.0 268.5 L328.5 264.3 L329.0 260.4 L329.5 256.0 L330.0 252.5 L330.5 249.6 L331.0 246.8 L331.5 244.7 L332.0 243.2 L332.5 242.6 L333.0 242.8 L333.5 243.7 L334.0 244.5 L334.5 246.2 L335.0 248.0 L335.5 250.6 L336.0 252.8 L336.5 256.0 L337.0 259.2 L337.5 261.8 L338.0 265.3 L338.5 268.5 L339.0 271.9 L339.5 274.8 L340.0 277.6 L340.5 280.6 L341.0 283.6 L341.5 286.1 L342.0 288.0 L342.5 290.2 L343.0 292.1 L343.5 293.8 L344.0 295.7 L344.5 296.9 L345.0 298.5 L345.5 299.4 L346.0 300.0 L346.5 301.1 L347.0 301.6 L347.5 302.3 L348.0 302.6 L348.5 303.0 L349.0 303.3 L349.5 303.7 L350.0 304.1 L350.5 304.2 L351.0 304.1 L351.5 304.6 L352.0 304.8 L352.5 304.8 L353.0 304.9 L353.5 304.5 L354.0 304.8 L354.5 304.6 L355.0 305.1 L355.5 304.8 L356.0 305.1 L356.5 304.9 L357.0 305.2 L357.5 305.0 L358.0 304.8 L358.5 305.1 L359.0 305.0 L359.5 305.4 L360.0 305.1 L360.5 305.2 L361.0 305.3 L361.5 305.5 L362.0 305.0 L362.5 305.3 L363.0 305.3 L363.5 305.4 L364.0 305.6 L364.5 305.2 L365.0 305.4 L365.5 305.4 L366.0 305.4 L366.5 305.1 L367.0 305.6 L367.5 305.7 L368.0 305.3 L368.5 305.3 L369.0 305.7 L369.5 305.2 L370.0 305.2 L370.5 305.2 L371.0 305.6 L371.5 305.6 L372.0 305.4 L372.5 305.5 L373.0 305.2" stroke="#3a7ae0" stroke-width="1.35" fill="none"/>
<path d="M168.1 337.3 L168.6 337.4 L169.1 337.4 L169.6 337.0 L170.1 337.0 L170.6 337.2 L171.1 337.1 L171.6 337.4 L172.1 337.4 L172.6 337.3 L173.1 337.3 L173.6 337.3 L174.1 337.0 L174.6 337.2 L175.1 337.0 L175.6 337.5 L176.1 337.0 L176.6 337.4 L177.1 337.0 L177.6 337.3 L178.1 337.1 L178.6 337.1 L179.1 337.4 L179.6 336.9 L180.1 336.9 L180.6 337.4 L181.1 337.2 L181.6 336.9 L182.1 337.5 L182.6 337.4 L183.1 336.9 L183.6 337.1 L184.1 336.9 L184.6 337.0 L185.1 337.2 L185.6 336.9 L186.1 337.2 L186.6 336.8 L187.1 336.9 L187.6 337.3 L188.1 337.0 L188.6 337.0 L189.1 337.1 L189.6 337.0 L190.1 337.0 L190.6 336.7 L191.1 337.1 L191.6 337.3 L192.1 337.3 L192.6 337.1 L193.1 336.9 L193.6 336.8 L194.1 337.0 L194.6 337.0 L195.1 336.6 L195.6 336.7 L196.1 336.7 L196.6 336.8 L197.1 337.0 L197.6 336.7 L198.1 336.4 L198.6 336.9 L199.1 336.6 L199.6 336.6 L200.1 336.4 L200.6 336.4 L201.1 336.3 L201.6 336.4 L202.1 335.9 L202.6 336.0 L203.1 335.6 L203.6 335.6 L204.1 334.8 L204.6 334.5 L205.1 333.9 L205.6 333.2 L206.1 331.9 L206.6 330.8 L207.1 329.1 L207.6 327.3 L208.1 325.2 L208.6 322.9 L209.1 319.8 L209.6 316.8 L210.1 312.9 L210.6 309.6 L211.1 305.5 L211.6 301.5 L212.1 298.2 L212.6 294.8 L213.1 291.2 L213.6 288.9 L214.1 287.3 L214.6 286.0 L215.1 285.6 L215.6 285.9 L216.1 287.1 L216.6 289.1 L217.1 291.5 L217.6 293.9 L218.1 296.2 L218.6 298.5 L219.1 301.0 L219.6 303.4 L220.1 305.2 L220.6 306.3 L221.1 306.7 L221.6 307.0 L222.1 306.4 L222.6 305.3 L223.1 303.3 L223.6 301.5 L224.1 298.7 L224.6 295.2 L225.1 292.0 L225.6 288.9 L226.1 285.1 L226.6 282.1 L227.1 278.8 L227.6 276.2 L228.1 274.0 L228.6 272.0 L229.1 271.1 L229.6 270.9 L230.1 271.7 L230.6 273.3 L231.1 275.3 L231.6 278.9 L232.1 282.4 L232.6 286.6 L233.1 291.3 L233.6 296.4 L234.1 301.0 L234.6 305.7 L235.1 310.5 L235.6 314.8 L236.1 318.7 L236.6 322.1 L237.1 325.4 L237.6 328.4 L238.1 330.8 L238.6 332.7 L239.1 334.3 L239.6 335.8 L240.1 337.2 L240.6 338.0 L241.1 338.5 L241.6 339.5 L242.1 340.1 L242.6 340.4 L243.1 340.7 L243.6 340.9 L244.1 340.9 L244.6 341.2 L245.1 341.0 L245.6 341.0 L246.1 341.2 L246.6 341.2 L247.1 341.6 L247.6 341.5 L248.1 341.5 L248.6 341.6 L249.1 341.3 L249.6 341.6 L250.1 341.7 L250.6 341.6 L251.1 341.5 L251.6 341.6 L252.1 341.6 L252.6 341.8 L253.1 341.5 L253.6 341.5 L254.1 341.6 L254.6 341.9 L255.1 341.9 L255.6 341.9 L256.1 342.1 L256.6 341.7 L257.1 341.6 L257.6 341.8 L258.1 341.8 L258.6 341.7 L259.1 342.0 L259.6 341.8 L260.1 341.7 L260.6 341.8 L261.1 342.2 L261.6 341.6 L262.1 341.9 L262.6 341.8 L263.1 341.8 L263.6 341.9 L264.1 341.8 L264.6 342.2 L265.1 342.0 L265.6 342.1 L266.1 341.8 L266.6 342.0 L267.1 342.1 L267.6 342.2 L268.1 341.9 L268.6 342.0 L269.1 342.2 L269.6 342.2 L270.1 341.9" stroke="#ee3556" stroke-width="1.35" fill="none"/>
<path d="M270.5 342.7 L271.0 342.2 L271.5 342.1 L272.0 342.7 L272.5 342.2 L273.0 342.2 L273.5 342.5 L274.0 342.3 L274.5 342.6 L275.0 342.2 L275.5 342.7 L276.0 342.3 L276.5 342.4 L277.0 342.6 L277.5 342.5 L278.0 342.6 L278.5 342.5 L279.0 342.1 L279.5 342.6 L280.0 342.4 L280.5 342.2 L281.0 342.2 L281.5 342.6 L282.0 342.4 L282.5 342.6 L283.0 342.5 L283.5 342.6 L284.0 342.4 L284.5 342.4 L285.0 342.4 L285.5 342.2 L286.0 342.6 L286.5 342.2 L287.0 342.5 L287.5 342.6 L288.0 342.4 L288.5 342.1 L289.0 342.5 L289.5 342.3 L290.0 342.1 L290.5 342.0 L291.0 342.2 L291.5 341.9 L292.0 342.5 L292.5 342.2 L293.0 342.2 L293.5 342.1 L294.0 342.3 L294.5 342.4 L295.0 342.0 L295.5 342.0 L296.0 342.1 L296.5 342.0 L297.0 342.1 L297.5 342.1 L298.0 342.0 L298.5 342.1 L299.0 342.0 L299.5 341.7 L300.0 342.2 L300.5 341.8 L301.0 341.7 L301.5 341.7 L302.0 341.9 L302.5 341.8 L303.0 341.3 L303.5 341.0 L304.0 340.5 L304.5 340.6 L305.0 339.6 L305.5 339.1 L306.0 338.0 L306.5 336.7 L307.0 335.2 L307.5 333.2 L308.0 330.8 L308.5 328.5 L309.0 325.7 L309.5 322.4 L310.0 318.7 L310.5 315.5 L311.0 311.6 L311.5 308.5 L312.0 305.9 L312.5 303.6 L313.0 301.7 L313.5 301.1 L314.0 300.9 L314.5 301.5 L315.0 302.6 L315.5 304.4 L316.0 306.1 L316.5 308.2 L317.0 310.8 L317.5 313.3 L318.0 315.7 L318.5 318.6 L319.0 321.1 L319.5 323.2 L320.0 325.5 L320.5 326.7 L321.0 328.4 L321.5 329.5 L322.0 330.0 L322.5 330.1 L323.0 330.2 L323.5 329.4 L324.0 328.1 L324.5 326.4 L325.0 324.9 L325.5 322.0 L326.0 319.0 L326.5 315.8 L327.0 312.3 L327.5 308.9 L328.0 304.6 L328.5 300.8 L329.0 296.8 L329.5 293.3 L330.0 289.8 L330.5 287.0 L331.0 284.9 L331.5 283.3 L332.0 282.2 L332.5 281.5 L333.0 282.1 L333.5 283.3 L334.0 284.1 L334.5 285.9 L335.0 288.2 L335.5 290.6 L336.0 293.5 L336.5 296.4 L337.0 299.3 L337.5 302.3 L338.0 305.5 L338.5 308.8 L339.0 311.8 L339.5 315.2 L340.0 317.9 L340.5 321.1 L341.0 323.6 L341.5 325.7 L342.0 328.3 L342.5 330.4 L343.0 331.9 L343.5 333.9 L344.0 335.1 L344.5 336.9 L345.0 337.6 L345.5 338.9 L346.0 340.0 L346.5 340.7 L347.0 340.9 L347.5 341.6 L348.0 341.8 L348.5 342.3 L349.0 342.9 L349.5 343.2 L350.0 342.9 L350.5 343.3 L351.0 343.6 L351.5 343.4 L352.0 343.9 L352.5 344.0 L353.0 343.9 L353.5 343.9 L354.0 344.2 L354.5 344.0 L355.0 343.9 L355.5 344.0 L356.0 343.9 L356.5 344.4 L357.0 344.2 L357.5 344.3 L358.0 344.4 L358.5 344.5 L359.0 344.1 L359.5 344.2 L360.0 344.5 L360.5 344.5 L361.0 344.3 L361.5 344.4 L362.0 344.2 L362.5 344.2 L363.0 344.1 L363.5 344.3 L364.0 344.3 L364.5 344.4 L365.0 344.7 L365.5 344.2 L366.0 344.5 L366.5 344.7 L367.0 344.5 L367.5 344.5 L368.0 344.7 L368.5 344.2 L369.0 344.8 L369.5 344.6 L370.0 344.7 L370.5 344.7 L371.0 344.3 L371.5 344.3 L372.0 344.4 L372.5 344.6 L373.0 344.8" stroke="#ee3556" stroke-width="1.35" fill="none"/>
<path d="M168.1 373.7 L168.6 374.0 L169.1 374.0 L169.6 374.1 L170.1 373.7 L170.6 373.7 L171.1 373.7 L171.6 373.7 L172.1 374.0 L172.6 373.6 L173.1 373.9 L173.6 373.7 L174.1 373.7 L174.6 373.8 L175.1 374.1 L175.6 373.9 L176.1 373.6 L176.6 373.7 L177.1 373.6 L177.6 374.1 L178.1 374.0 L178.6 374.0 L179.1 374.0 L179.6 374.0 L180.1 374.1 L180.6 374.0 L181.1 373.7 L181.6 374.0 L182.1 373.8 L182.6 373.9 L183.1 373.8 L183.6 373.7 L184.1 373.7 L184.6 373.7 L185.1 373.6 L185.6 373.5 L186.1 373.9 L186.6 373.9 L187.1 374.0 L187.6 373.8 L188.1 373.7 L188.6 373.9 L189.1 373.5 L189.6 373.8 L190.1 373.6 L190.6 373.5 L191.1 373.5 L191.6 373.7 L192.1 373.5 L192.6 373.6 L193.1 373.7 L193.6 373.5 L194.1 373.4 L194.6 373.6 L195.1 373.4 L195.6 373.4 L196.1 373.3 L196.6 373.4 L197.1 373.2 L197.6 373.5 L198.1 373.7 L198.6 373.3 L199.1 373.5 L199.6 373.6 L200.1 373.0 L200.6 373.0 L201.1 373.4 L201.6 373.3 L202.1 373.1 L202.6 372.7 L203.1 372.8 L203.6 372.9 L204.1 372.6 L204.6 372.3 L205.1 371.5 L205.6 371.4 L206.1 370.4 L206.6 369.7 L207.1 368.2 L207.6 367.4 L208.1 365.5 L208.6 363.5 L209.1 360.9 L209.6 358.5 L210.1 355.5 L210.6 352.2 L211.1 348.6 L211.6 345.3 L212.1 341.5 L212.6 338.0 L213.1 334.8 L213.6 332.3 L214.1 329.8 L214.6 328.3 L215.1 327.4 L215.6 327.7 L216.1 328.1 L216.6 329.1 L217.1 330.2 L217.6 332.2 L218.1 334.0 L218.6 335.8 L219.1 337.7 L219.6 340.0 L220.1 340.8 L220.6 341.9 L221.1 342.5 L221.6 342.7 L222.1 341.9 L222.6 341.2 L223.1 339.6 L223.6 337.9 L224.1 335.1 L224.6 332.6 L225.1 329.9 L225.6 327.2 L226.1 323.9 L226.6 321.1 L227.1 318.6 L227.6 316.1 L228.1 314.2 L228.6 313.3 L229.1 313.0 L229.6 313.0 L230.1 313.5 L230.6 315.2 L231.1 317.4 L231.6 319.8 L232.1 323.1 L232.6 326.5 L233.1 330.2 L233.6 334.2 L234.1 338.2 L234.6 342.3 L235.1 346.0 L235.6 350.0 L236.1 353.3 L236.6 357.0 L237.1 359.9 L237.6 362.2 L238.1 365.1 L238.6 366.9 L239.1 368.9 L239.6 370.5 L240.1 371.7 L240.6 372.8 L241.1 373.8 L241.6 374.4 L242.1 375.4 L242.6 375.5 L243.1 376.3 L243.6 376.2 L244.1 376.5 L244.6 376.8 L245.1 376.7 L245.6 376.9 L246.1 377.2 L246.6 377.3 L247.1 377.6 L247.6 377.8 L248.1 377.2 L248.6 377.6 L249.1 377.4 L249.6 377.8 L250.1 377.5 L250.6 377.9 L251.1 377.7 L251.6 377.5 L252.1 377.5 L252.6 377.6 L253.1 378.0 L253.6 377.6 L254.1 377.8 L254.6 377.8 L255.1 377.8 L255.6 378.1 L256.1 377.7 L256.6 378.0 L257.1 378.0 L257.6 378.2 L258.1 378.0 L258.6 378.2 L259.1 377.9 L259.6 378.0 L260.1 378.1 L260.6 378.2 L261.1 378.2 L261.6 377.8 L262.1 377.8 L262.6 378.0 L263.1 378.2 L263.6 378.1 L264.1 377.9 L264.6 378.3 L265.1 377.9 L265.6 377.8 L266.1 377.8 L266.6 377.8 L267.1 378.2 L267.6 377.9 L268.1 378.2 L268.6 378.3 L269.1 378.4 L269.6 378.3 L270.1 378.1" stroke="#1c2230" stroke-width="1.35" fill="none"/>
<path d="M270.5 379.2 L271.0 379.2 L271.5 379.1 L272.0 378.7 L272.5 379.0 L273.0 378.9 L273.5 378.9 L274.0 378.7 L274.5 378.7 L275.0 378.9 L275.5 378.7 L276.0 378.9 L276.5 378.6 L277.0 378.6 L277.5 379.0 L278.0 378.8 L278.5 378.9 L279.0 379.0 L279.5 378.8 L280.0 378.6 L280.5 379.0 L281.0 378.9 L281.5 379.0 L282.0 378.9 L282.5 379.1 L283.0 378.8 L283.5 379.0 L284.0 378.8 L284.5 378.9 L285.0 378.9 L285.5 378.7 L286.0 378.6 L286.5 378.8 L287.0 378.9 L287.5 378.9 L288.0 378.8 L288.5 378.9 L289.0 378.6 L289.5 378.6 L290.0 378.7 L290.5 378.9 L291.0 378.6 L291.5 378.5 L292.0 378.5 L292.5 378.4 L293.0 378.6 L293.5 378.7 L294.0 378.9 L294.5 378.6 L295.0 378.6 L295.5 378.5 L296.0 378.5 L296.5 378.8 L297.0 378.6 L297.5 378.4 L298.0 378.3 L298.5 378.7 L299.0 378.6 L299.5 378.7 L300.0 378.3 L300.5 378.4 L301.0 378.6 L301.5 378.3 L302.0 378.4 L302.5 377.7 L303.0 378.0 L303.5 377.2 L304.0 377.1 L304.5 376.4 L305.0 376.2 L305.5 375.4 L306.0 374.6 L306.5 373.4 L307.0 372.1 L307.5 370.3 L308.0 368.7 L308.5 366.4 L309.0 363.9 L309.5 361.8 L310.0 358.8 L310.5 356.1 L311.0 353.5 L311.5 351.3 L312.0 348.9 L312.5 347.6 L313.0 346.3 L313.5 345.0 L314.0 344.8 L314.5 345.3 L315.0 345.8 L315.5 347.0 L316.0 348.6 L316.5 349.8 L317.0 351.8 L317.5 354.0 L318.0 355.8 L318.5 357.8 L319.0 360.1 L319.5 361.9 L320.0 363.7 L320.5 365.1 L321.0 366.2 L321.5 367.3 L322.0 368.0 L322.5 368.3 L323.0 368.0 L323.5 367.6 L324.0 366.9 L324.5 365.9 L325.0 364.3 L325.5 362.3 L326.0 360.3 L326.5 357.3 L327.0 354.8 L327.5 351.6 L328.0 348.6 L328.5 345.6 L329.0 342.1 L329.5 339.5 L330.0 336.1 L330.5 334.0 L331.0 331.9 L331.5 330.2 L332.0 329.5 L332.5 329.2 L333.0 329.4 L333.5 330.2 L334.0 330.9 L334.5 332.5 L335.0 334.6 L335.5 336.2 L336.0 338.9 L336.5 341.0 L337.0 343.9 L337.5 346.3 L338.0 349.2 L338.5 351.9 L339.0 354.3 L339.5 357.3 L340.0 359.6 L340.5 362.1 L341.0 364.2 L341.5 366.2 L342.0 368.1 L342.5 369.6 L343.0 371.5 L343.5 372.4 L344.0 374.0 L344.5 375.1 L345.0 375.8 L345.5 376.7 L346.0 377.3 L346.5 377.8 L347.0 378.1 L347.5 378.5 L348.0 378.9 L348.5 379.1 L349.0 379.7 L349.5 379.5 L350.0 379.7 L350.5 379.9 L351.0 380.2 L351.5 380.1 L352.0 380.2 L352.5 380.1 L353.0 380.2 L353.5 380.1 L354.0 380.2 L354.5 380.3 L355.0 380.6 L355.5 380.5 L356.0 380.2 L356.5 380.5 L357.0 380.3 L357.5 380.6 L358.0 380.5 L358.5 380.8 L359.0 380.4 L359.5 380.8 L360.0 380.5 L360.5 380.9 L361.0 380.7 L361.5 380.4 L362.0 380.8 L362.5 380.5 L363.0 380.6 L363.5 380.5 L364.0 380.9 L364.5 380.5 L365.0 380.9 L365.5 380.7 L366.0 380.8 L366.5 380.6 L367.0 380.5 L367.5 381.0 L368.0 380.8 L368.5 380.6 L369.0 381.1 L369.5 381.0 L370.0 380.6 L370.5 380.5 L371.0 380.9 L371.5 380.6 L372.0 380.9 L372.5 380.8 L373.0 380.9" stroke="#1c2230" stroke-width="1.35" fill="none"/>
<line x1="229.6" y1="224" x2="229.6" y2="406.4" stroke="#5a6068" stroke-width="1.1"/>
<path d="M229.6 219.2 L227.5 225.9 L231.7 225.9 Z" fill="#0c0c0c"/>
<line x1="332.6" y1="224" x2="332.6" y2="406.4" stroke="#5a6068" stroke-width="1.1"/>
<path d="M332.6 219.2 L330.5 225.9 L334.70000000000005 225.9 Z" fill="#0c0c0c"/>
<text x="171.0" y="215.6" font-family='"Liberation Sans", Arial, sans-serif' font-size="11.8" fill="#111" text-anchor="start" font-weight="normal" ><tspan font-weight="bold">(e)</tspan> Hf 4f</text>
<text x="275.8" y="215.8" font-family='"Liberation Sans", Arial, sans-serif' font-size="11.8" fill="#111" text-anchor="start" font-weight="normal" >Zr 3d</text>
<text x="0" y="0" font-family='"Liberation Sans", Arial, sans-serif' font-size="9.3" fill="#111" text-anchor="start" font-weight="normal" transform="translate(244.2 240.9) rotate(-90)">Hf 4f<tspan font-size="6.6" dy="1.8">7/2</tspan></text>
<text x="0" y="0" font-family='"Liberation Sans", Arial, sans-serif' font-size="9.3" fill="#111" text-anchor="start" font-weight="normal" transform="translate(346.6 243.3) rotate(-90)">Zr 3d<tspan font-size="6.6" dy="1.8">5/2</tspan></text>
<text x="245.0" y="290.8" font-family='"Liberation Sans", Arial, sans-serif' font-size="9.1" fill="#3a7ae0" text-anchor="start" font-weight="normal" >w/ scavenging</text>
<text x="241.2" y="321.0" font-family='"Liberation Sans", Arial, sans-serif' font-size="9.0" fill="#ee3556" text-anchor="start" font-weight="normal" >w/o scavenging</text>
<text x="259.2" y="372.8" font-family='"Liberation Sans", Arial, sans-serif' font-size="9.2" fill="#1e1e1e" text-anchor="start" font-weight="normal" >as-dep</text>
<text x="176.0" y="417.6" font-family='"Liberation Sans", Arial, sans-serif' font-size="11" fill="#111" text-anchor="middle" font-weight="normal" >24</text>
<text x="193.1" y="417.6" font-family='"Liberation Sans", Arial, sans-serif' font-size="11" fill="#111" text-anchor="middle" font-weight="normal" >22</text>
<text x="209.9" y="417.6" font-family='"Liberation Sans", Arial, sans-serif' font-size="11" fill="#111" text-anchor="middle" font-weight="normal" >20</text>
<text x="227.2" y="417.6" font-family='"Liberation Sans", Arial, sans-serif' font-size="11" fill="#111" text-anchor="middle" font-weight="normal" >18</text>
<text x="245.0" y="417.6" font-family='"Liberation Sans", Arial, sans-serif' font-size="11" fill="#111" text-anchor="middle" font-weight="normal" >16</text>
<text x="262.1" y="417.6" font-family='"Liberation Sans", Arial, sans-serif' font-size="11" fill="#111" text-anchor="middle" font-weight="normal" >14</text>
<text x="286.5" y="417.6" font-family='"Liberation Sans", Arial, sans-serif' font-size="11" fill="#111" text-anchor="middle" font-weight="normal" >189</text>
<text x="310.5" y="417.6" font-family='"Liberation Sans", Arial, sans-serif' font-size="11" fill="#111" text-anchor="middle" font-weight="normal" >186</text>
<text x="333.7" y="417.6" font-family='"Liberation Sans", Arial, sans-serif' font-size="11" fill="#111" text-anchor="middle" font-weight="normal" >183</text>
<text x="357.8" y="417.6" font-family='"Liberation Sans", Arial, sans-serif' font-size="11" fill="#111" text-anchor="middle" font-weight="normal" >180</text>
<text x="219.1" y="429.4" font-family='"Liberation Sans", Arial, sans-serif' font-size="11.5" fill="#111" text-anchor="middle" font-weight="bold" >BE (eV)</text>
<text x="322.2" y="429.4" font-family='"Liberation Sans", Arial, sans-serif' font-size="11.5" fill="#111" text-anchor="middle" font-weight="bold" >BE (eV)</text>
<text x="0" y="0" font-family='"Liberation Sans", Arial, sans-serif' font-size="11.8" fill="#111" text-anchor="middle" font-weight="bold" transform="translate(164.0 299.3) rotate(-90)">Intensity (a.u.)</text>
</svg>
</body></html>
